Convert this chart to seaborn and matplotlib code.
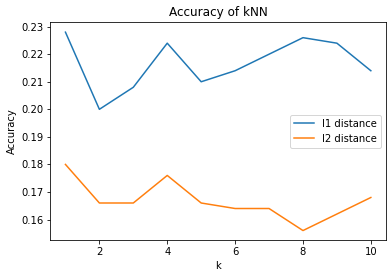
import matplotlib
matplotlib.use("Agg")
import matplotlib.pyplot as plt
import seaborn as sns
import pandas as pd

k_values = [1, 2, 3, 4, 5, 6, 7, 8, 9, 10]
l1_acc = [0.228, 0.200, 0.208, 0.224, 0.210, 0.214, 0.220, 0.226, 0.224, 0.214]
l2_acc = [0.180, 0.166, 0.166, 0.176, 0.166, 0.164, 0.164, 0.156, 0.162, 0.168]
series_names = ["l1 distance", "l2 distance"]

df = pd.DataFrame({
    "k": k_values * 2,
    "Accuracy": l1_acc + l2_acc,
    "metric": [series_names[0]] * len(k_values) + [series_names[1]] * len(k_values),
})

fig, ax = plt.subplots(figsize=(392 / 72, 278 / 72), dpi=72)
sns.lineplot(data=df, x="k", y="Accuracy", hue="metric", ax=ax,
             palette=["#1f77b4", "#ff7f0e"], linewidth=1.5)
ax.set_title("Accuracy of kNN")
ax.set_xlabel("k")
ax.set_ylabel("Accuracy")
ax.legend(loc="center right")
fig.subplots_adjust(left=0.128, right=0.985, top=0.92, bottom=0.135)
fig.savefig("out.png", dpi=72)
